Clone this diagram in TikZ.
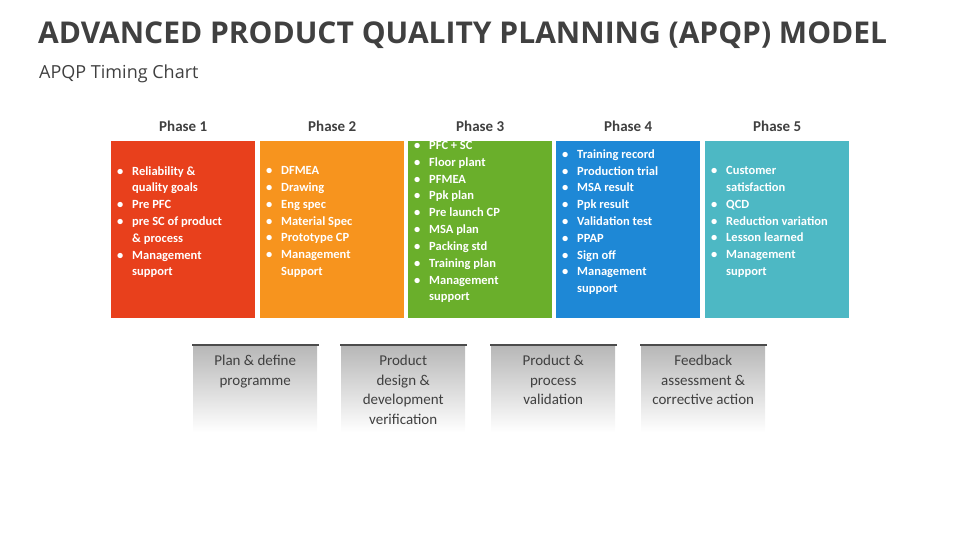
\documentclass[tikz,border=0pt]{standalone}
\usepackage{fontspec}
\setmainfont{Carlito}
\newfontfamily\titlefont{Open Sans}
\usetikzlibrary{positioning}
\definecolor{cred}{HTML}{E8401C}
\definecolor{corange}{HTML}{F7941E}
\definecolor{cgreen}{HTML}{6AAF2B}
\definecolor{cblue}{HTML}{1E88D6}
\definecolor{cteal}{HTML}{4DB8C4}
\definecolor{tgray}{HTML}{404040}
\newcommand\bl[1]{\makebox[15pt][l]{\textbullet}#1\\}
\newcommand\cl[1]{\hspace*{15pt}#1\\}
\begin{document}
\begin{tikzpicture}[x=1pt,y=-1pt,
  phase/.style={fill=#1,minimum width=144pt,minimum height=177pt,anchor=north west,inner sep=0pt},
  items/.style={text=white,font=\fontsize{12.5}{16.8}\selectfont\bfseries,align=left,anchor=west,inner sep=0pt},
  head/.style={font=\fontsize{15}{18}\selectfont\bfseries,text=tgray},
  gbox/.style={minimum width=124pt,minimum height=86pt,anchor=north west,inner sep=0pt,top color=black!28,bottom color=white},
  gline/.style={draw=black!70,line width=2pt},
  glab/.style={font=\fontsize{15}{19.5}\selectfont,text=tgray,align=center,anchor=north}]
\useasboundingbox (0,0) rectangle (960,540);
\node[anchor=west,inner sep=0pt,text=tgray,font=\titlefont\fontsize{30}{34}\selectfont\bfseries] (title) at (38,35) {ADVANCED PRODUCT QUALITY PLANNING (APQP) MODEL};
\node[anchor=west,inner sep=0pt,text=tgray,font=\titlefont\fontsize{18}{22}\selectfont] (sub) at (39,74) {APQP Timing Chart};

\node[phase=cred] (p1) at (111,141) {};
\node[phase=corange] (p2) at (260,141) {};
\node[phase=cgreen] (p3) at (408,141) {};
\node[phase=cblue] (p4) at (556,141) {};
\node[phase=cteal] (p5) at (705,141) {};
\foreach \i in {1,...,5} {\node[head,above=6pt of p\i.north] (h\i) {Phase \i};}

\node[items] (t1) at (117,229.5) {\bl{Reliability \&}\cl{quality goals}\bl{Pre PFC}\bl{pre SC of product}\cl{\& process}\bl{Management}\cl{support}};
\node[items] (t2) at (266,229.5) {\bl{DFMEA}\bl{Drawing}\bl{Eng spec}\bl{Material Spec}\bl{Prototype CP}\bl{Management}\cl{Support}};
\node[items] (t3) at (414,229.5) {\bl{PFC + SC}\bl{Floor plant}\bl{PFMEA}\bl{Ppk plan}\bl{Pre launch CP}\bl{MSA plan}\bl{Packing std}\bl{Training plan}\bl{Management}\cl{support}};
\node[items] (t4) at (562,229.5) {\bl{Training record}\bl{Production trial}\bl{MSA result}\bl{Ppk result}\bl{Validation test}\bl{PPAP}\bl{Sign off}\bl{Management}\cl{support}};
\node[items] (t5) at (711,229.5) {\bl{Customer}\cl{satisfaction}\bl{QCD}\bl{Reduction variation}\bl{Lesson learned}\bl{Management}\cl{support}};

\foreach \n/\x in {1/193,2/341,3/491,4/641} {
  \node[gbox] (g\n) at (\x,346) {};
  \draw[gline] (\x-1,345) -- (\x+126,345);
}
\node[glab] (l1) at (g1.north) [yshift=-6pt] {Plan \& define\\programme};
\node[glab] (l2) at (g2.north) [yshift=-6pt] {Product\\design \&\\development\\verification};
\node[glab] (l3) at (g3.north) [yshift=-6pt] {Product \&\\process\\validation};
\node[glab] (l4) at (g4.north) [yshift=-6pt] {Feedback\\assessment \&\\corrective action};
\end{tikzpicture}
\end{document}
